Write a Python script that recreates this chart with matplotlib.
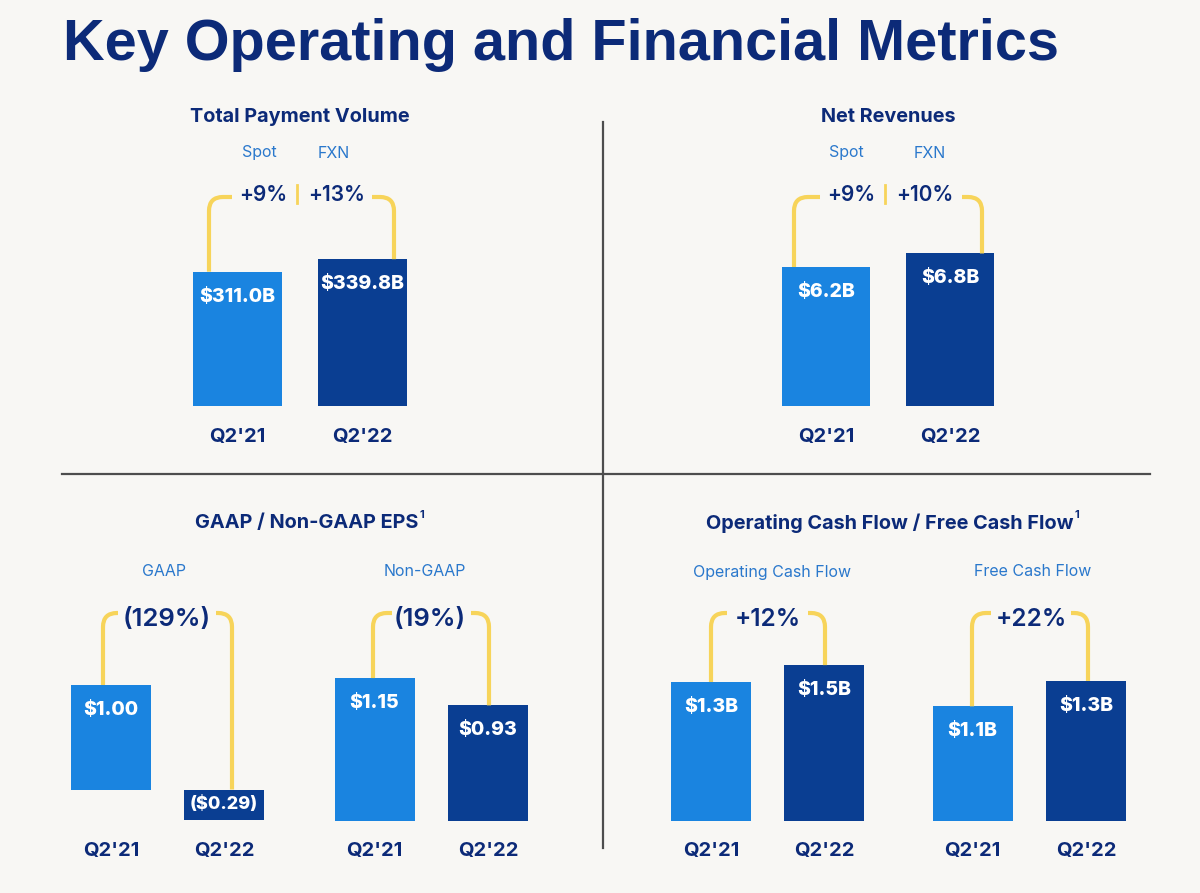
import matplotlib
matplotlib.use("Agg")
import matplotlib.pyplot as plt
from matplotlib.path import Path
from matplotlib.patches import PathPatch

# ---------------- data ----------------
categories = ["Q2'21", "Q2'22"]

tpv_values = [311.0, 339.8]
tpv_labels = ["$311.0B", "$339.8B"]

nr_values = [6.2, 6.8]
nr_labels = ["$6.2B", "$6.8B"]

gaap_eps = [1.00, -0.29]
gaap_labels = ["$1.00", "($0.29)"]

nongaap_eps = [1.15, 0.93]
nongaap_labels = ["$1.15", "$0.93"]

ocf_values = [1.31, 1.47]
ocf_labels = ["$1.3B", "$1.5B"]

fcf_values = [1.08, 1.32]
fcf_labels = ["$1.1B", "$1.3B"]

growth_tpv = ["+9%", "+13%"]
growth_nr = ["+9%", "+10%"]
growth_gaap = "(129%)"
growth_nongaap = "(19%)"
growth_ocf = "+12%"
growth_fcf = "+22%"

# ---------------- style ----------------
W, H = 1200, 893
BG = "#f8f7f4"
NAVY = "#0c2a78"
MID = "#2a78cc"
BRIGHT = "#1a84e0"
DARK = "#0a3e92"
YEL = "#f7d45a"
LINE = "#4d4d4d"
FONT = ["Inter", "DejaVu Sans"]

fig = plt.figure(figsize=(W / 100, H / 100), dpi=100)
fig.patch.set_facecolor(BG)

ov = fig.add_axes([0, 0, 1, 1], zorder=5)
ov.set_xlim(0, W)
ov.set_ylim(H, 0)
ov.axis("off")
ov.patch.set_alpha(0)


def bar_axes(xc, bw, base, ppu, vals):
    spacing = xc[1] - xc[0]
    left_px = xc[0] - spacing
    right_px = xc[1] + spacing
    top_px = base - 260
    bot_px = base + 60
    ax = fig.add_axes([left_px / W, 1 - bot_px / H,
                       (right_px - left_px) / W, (bot_px - top_px) / H], zorder=1)
    ax.set_xlim(-1, 2)
    ax.set_ylim(-(bot_px - base) / ppu, (base - top_px) / ppu)
    ax.bar([0, 1], vals, width=bw / spacing, color=[BRIGHT, DARK])
    ax.axis("off")
    return ax


def to_px(ax, x, y):
    dx, dy = ax.transData.transform((x, y))
    return dx, H - dy


def bracket(xv, ybar, yh, xend, r=14):
    sgn = 1 if xend > xv else -1
    verts = [(xv, ybar), (xv, yh + r), (xv, yh), (xv + sgn * r, yh), (xend, yh)]
    codes = [Path.MOVETO, Path.LINETO, Path.CURVE3, Path.CURVE3, Path.LINETO]
    ov.add_patch(PathPatch(Path(verts, codes), fill=False, edgecolor=YEL,
                           lw=3, capstyle="butt", joinstyle="round"))


def chart(vals, labels, xc, bw, base, ppu, bx, yh, hx, cat_y):
    ax = bar_axes(xc, bw, base, ppu, vals)
    ends = []
    for i, (v, lab) in enumerate(zip(vals, labels)):
        px, py = to_px(ax, i, v)
        _, pb = to_px(ax, i, 0)
        if v >= 0:
            ly = py + 25
            fs = 14
            ends.append(py)
        else:
            ly = (py + pb) / 2
            fs = 13
            ends.append(pb)
        ov.text(px, ly, lab, ha="center", va="center", color="white",
                fontsize=fs, fontweight="heavy", family=FONT)
        ov.text(px, cat_y, categories[i], ha="center", va="center", color=NAVY,
                fontsize=14.5, fontweight="bold", family=FONT)
    bracket(bx[0], ends[0], yh, hx[0])
    bracket(bx[1], ends[1], yh, hx[1])
    return ax


# title
ov.text(63, 60, "Key Operating and Financial Metrics", ha="left", va="baseline",
        color=NAVY, fontsize=41.5, fontweight="bold",
        family=["Liberation Sans", "DejaVu Sans"])

# dividers
ov.plot([603, 603], [122, 848], color=LINE, lw=1.6)
ov.plot([62, 1150], [474, 474], color=LINE, lw=1.6)

SUB = 14.3

# ---- panel 1: TPV
chart(tpv_values, tpv_labels, [237.5, 362.5], 89, 406.5, 0.4335,
      [209, 394], 197, [232, 372], 437)
ov.text(300, 117, "Total Payment Volume", ha="center", va="center", color=NAVY,
        fontsize=SUB, fontweight="bold", family=FONT)
ov.text(259, 153, "Spot", ha="center", va="center", color=MID, fontsize=11.5, family=FONT)
ov.text(334, 153, "FXN", ha="center", va="center", color=MID, fontsize=11.5, family=FONT)
ov.text(263, 201, growth_tpv[0], ha="center", va="baseline", color=NAVY,
        fontsize=15, fontweight="semibold", family=FONT)
ov.text(336.5, 201, growth_tpv[1], ha="center", va="baseline", color=NAVY,
        fontsize=15, fontweight="semibold", family=FONT)
ov.plot([297, 297], [185, 203], color=YEL, lw=2)

# ---- panel 2: Net revenues
chart(nr_values, nr_labels, [826, 950], 88, 406.5, 22.5,
      [794, 982], 197, [820, 962], 437)
ov.text(888, 117, "Net Revenues", ha="center", va="center", color=NAVY,
        fontsize=SUB, fontweight="bold", family=FONT)
ov.text(846, 153, "Spot", ha="center", va="center", color=MID, fontsize=11.5, family=FONT)
ov.text(930, 153, "FXN", ha="center", va="center", color=MID, fontsize=11.5, family=FONT)
ov.text(851, 201, growth_nr[0], ha="center", va="baseline", color=NAVY,
        fontsize=15, fontweight="semibold", family=FONT)
ov.text(925, 201, growth_nr[1], ha="center", va="baseline", color=NAVY,
        fontsize=15, fontweight="semibold", family=FONT)
ov.plot([885, 885], [185, 203], color=YEL, lw=2)

# ---- panel 3: EPS
chart(gaap_eps, gaap_labels, [111, 224], 80, 789.5, 104.5,
      [103, 232], 613, [118, 216], 851)
chart(nongaap_eps, nongaap_labels, [374.5, 488], 80, 821, 124.3,
      [373, 489], 613, [392, 471], 851)
ov.text(164, 572, "GAAP", ha="center", va="center", color=MID, fontsize=11.5, family=FONT)
ov.text(424.5, 572, "Non-GAAP", ha="center", va="center", color=MID, fontsize=11.5, family=FONT)
ov.text(167, 626, growth_gaap, ha="center", va="baseline", color=NAVY,
        fontsize=18.5, fontweight="semibold", family=FONT)
ov.text(430, 626, growth_nongaap, ha="center", va="baseline", color=NAVY,
        fontsize=18.5, fontweight="semibold", family=FONT)

# ---- panel 4: cash flow
chart(ocf_values, ocf_labels, [711, 824], 80, 820.5, 105.7,
      [711, 825], 613, [727, 808], 851)
chart(fcf_values, fcf_labels, [972.5, 1086], 80, 820.5, 105.7,
      [972, 1088], 613, [991, 1071], 851)
ov.text(772, 572, "Operating Cash Flow", ha="center", va="center", color=MID,
        fontsize=11.5, family=FONT)
ov.text(1033, 572, "Free Cash Flow", ha="center", va="center", color=MID,
        fontsize=11.5, family=FONT)
ov.text(768, 626, growth_ocf, ha="center", va="baseline", color=NAVY,
        fontsize=17.5, fontweight="semibold", family=FONT)
ov.text(1031, 626, growth_fcf, ha="center", va="baseline", color=NAVY,
        fontsize=17.5, fontweight="semibold", family=FONT)

# titles with superscript
renderer = fig.canvas.get_renderer()


def title_sup(cx, cy, s):
    t = ov.text(cx, cy, s, ha="center", va="center", color=NAVY,
                fontsize=SUB, fontweight="bold", family=FONT)
    bb = t.get_window_extent(renderer)
    xr = bb.x1
    ov.text(xr + 1, cy - 8, "1", ha="left", va="center", color=NAVY,
            fontsize=8, fontweight="bold", family=FONT)


title_sup(307, 523, "GAAP / Non-GAAP EPS")
title_sup(890, 523, "Operating Cash Flow / Free Cash Flow")

fig.savefig("out.png", dpi=100, facecolor=BG)
